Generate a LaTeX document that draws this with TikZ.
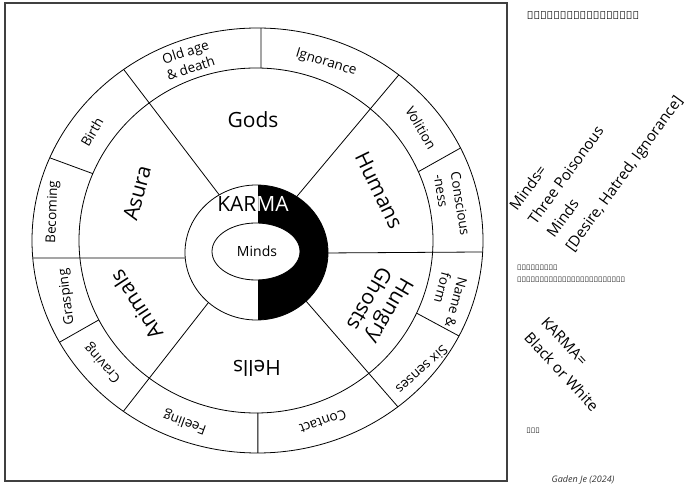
\documentclass[tikz,border=0pt]{standalone}
\usepackage{fontspec}
\setmainfont{Open Sans}
\usetikzlibrary{calc}
\newfontfamily\tibfont{Noto Sans}

\begin{document}
\begin{tikzpicture}[x=1pt, y=1pt,
    wheel/.style={black, line width=0.8pt},
    realm/.style={font=\fontsize{21}{24}\selectfont, align=center, inner sep=0pt},
    link/.style={font=\fontsize{13.5}{17}\selectfont, align=center, inner sep=0pt},
    note/.style={font=\fontsize{15}{23}\selectfont, align=left, inner sep=0pt},
    tib/.style={font=\tibfont\fontsize{7.5}{12}\selectfont, align=left, inner sep=0pt}]

\useasboundingbox (0,0) rectangle (685,487);

% frame
\draw[black!75, line width=1.2pt] (5,6) rectangle (507,484);

% centres of the rings
\coordinate (c0) at (257.5,246.5); % rim
\coordinate (c1) at (256,246.5);   % realms
\coordinate (c2) at (256.5,234.5); % karma
\coordinate (c3) at (256,235.5);   % minds

% karma, black half
\begin{scope}
  \clip (258,150) rectangle (340,320);
  \fill[even odd rule] (c2) ellipse (71.5 and 67.5) (c3) ellipse (44 and 28.5);
\end{scope}

% rings
\draw[wheel] (c0) ellipse (225.5 and 212.5);
\draw[wheel] (c1) ellipse (177 and 172.5);
\draw[wheel] (c2) ellipse (71.5 and 67.5);
\draw[wheel] (c3) ellipse (44 and 28.5);

% spokes between the realms
\foreach \a/\b in {55.8/51.2, -0.4/-3.1, -46.1/-51.5, -132.2/-126.5, 184.6/184.7, 121.4/126.4}
  \draw[wheel] ($(c2)+(\a:71.5 and 67.5)$) -- ($(c0)+(\b:225.5 and 212.5)$);
% spokes of the twelve links
\foreach \a/\b in {88.4/89.1, 23.5/25.8, -24.9/-26.7, -89.4/-89.9, -152.6/-151.4, 157.2/157.1}
  \draw[wheel] ($(c1)+(\a:177 and 172.5)$) -- ($(c0)+(\b:225.5 and 212.5)$);

% centre
\node[realm] (karma) at (253,283) {KARMA};
\begin{scope}
  \clip (258,150) rectangle (340,320);
  \node[realm, white] (karmaw) at (253,283) {KARMA};
\end{scope}
\node[font=\fontsize{14}{16}\selectfont] (minds) at (257,236) {Minds};

% realms
\node[realm] (gods) at (253,367) {Gods};
\node[realm, rotate=-64] (humans) at (379,297) {Humans};
\node[realm, rotate=-120] (ghosts) at (380,182) {Hungry\\Ghosts};
\node[realm, rotate=180] (hells) at (257,119) {Hells};
\node[realm, rotate=123] (animals) at (136,182) {Animals};
\node[realm, rotate=75] (asura) at (137,294) {Asura};

% twelve links
\node[link, rotate=18] (oldage) at (188,427) {Old age\\\& death};
\node[link, rotate=-17] (ignorance) at (326,424) {Ignorance};
\node[link, rotate=-60] (volition) at (421,359) {Volition};
\node[link, rotate=-81, align=left] (conscious) at (452,282) {Conscious\\-ness};
\node[link, rotate=-105, align=left] (nameform) at (448,187) {Name \&\\form};
\node[link, rotate=-138] (sixsenses) at (422,117) {Six senses};
\node[link, rotate=-161] (contact) at (323,65) {Contact};
\node[link, rotate=160] (feeling) at (185,65) {Feeling};
\node[link, rotate=132] (craving) at (103,124) {Craving};
\node[link, rotate=97] (grasping) at (67,190) {Grasping};
\node[link, rotate=88] (becoming) at (53,275) {Becoming};
\node[link, rotate=60] (birth) at (92,355) {Birth};

% notes on the right
\node[tib, font=\tibfont\fontsize{11}{14}\selectfont] (title) at (583,471) {འཁོར་བའི་འཁོར་ལོ།};
\node[note, rotate=54] (mindsnote) at (597,333) {Minds=\\Three Poisonous\\Minds\\{[}Desire, Hatred, Ignorance]};
\node[tib, anchor=west] (poisons) at (517,213) {དུག་གསུམ།\\འདོད་ཆགས་ཞེ་སྡང་གཏི་མུག།};
\node[note, rotate=-47] (karmanote) at (570,123) {KARMA=\\Black or White};
\node[tib] (las) at (533,56) {ལས།};
\node[font=\itshape\fontsize{9}{11}\selectfont, black!80, inner sep=0pt] (credit) at (583,7) {Gaden Je (2024)};

\end{tikzpicture}
\end{document}
